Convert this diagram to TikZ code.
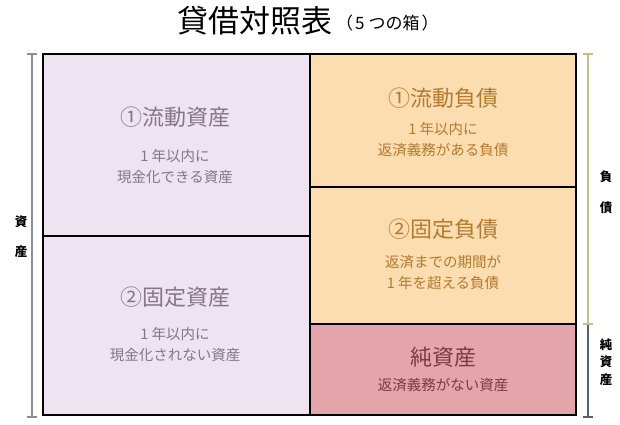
\documentclass[tikz,border=0pt]{standalone}
\usepackage{fontspec}
\setmainfont{Noto Sans CJK JP}
\definecolor{asfill}{HTML}{EEE3F0}
\definecolor{lifill}{HTML}{FCDDB0}
\definecolor{nafill}{HTML}{E3A5AA}
\definecolor{astext}{HTML}{85758A}
\definecolor{litext}{HTML}{B37A30}
\definecolor{natext}{HTML}{7A3A3E}
\definecolor{brgray}{HTML}{8E8E92}
\definecolor{brolive}{HTML}{BFC486}
\definecolor{brblue}{HTML}{4F6278}
\tikzset{
  x=1pt,y=-1pt,
  cell/.style={draw=black,line width=1.1pt},
  head/.style={font=\fontsize{22}{26}\selectfont,anchor=center},
  sub/.style={font=\fontsize{14.5}{21}\selectfont,align=center,anchor=center},
  side/.style={align=center,anchor=center},
  bracket/.style={line width=1.6pt},
}
\begin{document}
\begin{tikzpicture}
\useasboundingbox (0,0) rectangle (620,424);
\fill[white] (0,0) rectangle (620,424);
% cells
\filldraw[cell,fill=asfill] (43,54) rectangle (310,236);
\filldraw[cell,fill=asfill] (43,236) rectangle (310,415);
\filldraw[cell,fill=lifill] (310,54) rectangle (576,187);
\filldraw[cell,fill=lifill] (310,187) rectangle (576,324);
\filldraw[cell,fill=nafill] (310,324) rectangle (576,415);
\draw[line width=2pt] (43,54) rectangle (576,415);
% title
\node[font=\fontsize{31}{36}\selectfont,anchor=center,inner sep=0pt] (title) at (255,21) {貸借対照表};
\node[font=\fontsize{17}{20}\selectfont,anchor=west,inner sep=0pt] (titlesub) at (336,23) {（\hspace{2pt}5\hspace{4pt}つの箱\hspace{2pt}）};
% texts
\node[head,text=astext] (a1) at (175,117) {①流動資産};
\node[sub,text=astext] (a1s) at (175,166) {1 年以内に\\現金化できる資産};
\node[head,text=astext] (a2) at (175,297) {②固定資産};
\node[sub,text=astext] (a2s) at (175,344) {1 年以内に\\現金化されない資産};
\node[head,text=litext] (l1) at (443,98) {①流動負債};
\node[sub,text=litext] (l1s) at (443,140) {1 年以内に\\返済義務がある負債};
\node[head,text=litext] (l2) at (443,229) {②固定負債};
\node[sub,text=litext] (l2s) at (443,272) {返済までの期間が\\1 年を超える負債};
\node[head,text=natext] (n) at (443,357) {純資産};
\node[sub,text=natext] (ns) at (443,385) {返済義務がない資産};
% brackets
\coordinate (lbt) at (32,54);
\coordinate (lbb) at (32,417);
\draw[bracket,brgray] (lbt) -- (lbb);
\draw[bracket,brgray] ([xshift=-5]lbt) -- ([xshift=5]lbt);
\draw[bracket,brgray] ([xshift=-5]lbb) -- ([xshift=5]lbb);
\coordinate (rbt) at (588,54);
\coordinate (rbm) at (588,324);
\coordinate (rbb) at (588,417);
\draw[bracket,brolive] (rbt) -- (rbm);
\draw[bracket,brolive] ([xshift=-5]rbt) -- ([xshift=5]rbt);
\draw[bracket,brblue] (rbm) -- (rbb);
\draw[bracket,brolive] ([xshift=-5]rbm) -- ([xshift=5]rbm);
\draw[bracket,brblue] ([xshift=-5]rbb) -- ([xshift=5]rbb);
% side labels
\node[side,font=\fontsize{12.5}{30}\selectfont\bfseries] (sa) at (21,237) {資\\産};
\node[side,font=\fontsize{12.5}{31}\selectfont\bfseries] (sl) at (606,192) {負\\債};
\node[side,font=\fontsize{12.5}{17.5}\selectfont\bfseries] (sn) at (606,362) {純\\資\\産};
\end{tikzpicture}
\end{document}
